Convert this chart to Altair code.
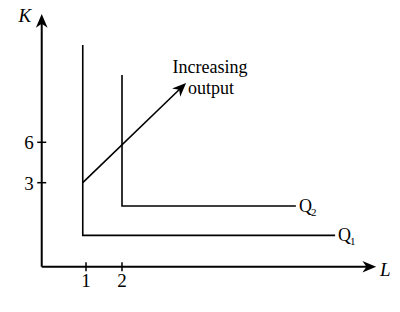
import altair as alt
import pandas as pd

# ---- data ----
# isoquants (L-shaped): Q1 and Q2
q_name = ["Q1", "Q1", "Q1", "Q2", "Q2", "Q2"]
q_L = [0.91, 0.91, 7.92, 2.0, 2.0, 6.83]
q_K = [13.22, -0.91, -0.91, 10.99, 1.27, 1.27]
q_order = [0, 1, 2, 0, 1, 2]

# axis geometry (in data units)
axis_L0 = -0.23
axis_K0 = -3.24
axis_L_end = 9.06
axis_K_end = 15.52

# ticks
L_ticks = [1, 2]
L_tick_labels = ["1", "2"]
K_ticks = [3, 6]
K_tick_labels = ["3", "6"]

# "Increasing output" arrow
arrow_L = [0.91, 3.78]
arrow_K = [3.0, 10.40]
arrow_text = ["Increasing", "output"]

# axis titles
axis_titles = ["K", "L"]

# ---- scales ----
xs = alt.Scale(domain=[-1.3889, 9.7222], nice=False, zero=False)
ys = alt.Scale(domain=[-6.601, 16.566], nice=False, zero=False)
FONT = "Liberation Serif"
ARROW = "M0,0 L-2,-0.85 L-1.4,0 L-2,0.85 Z"
HEAD_SIZE = 190


def X(f="L"):
    return alt.X(f"{f}:Q", scale=xs, axis=None)


def Y(f="K"):
    return alt.Y(f"{f}:Q", scale=ys, axis=None)


def pt(L, K, t=None):
    d = {"L": [L], "K": [K]}
    if t is not None:
        d["t"] = [t]
    return alt.Chart(pd.DataFrame(d))


# isoquant lines
iso = pd.DataFrame({"name": q_name, "L": q_L, "K": q_K, "o": q_order})
iso_lines = alt.Chart(iso).mark_line(color="black", strokeWidth=1.6).encode(
    x=X(), y=Y(), detail="name:N", order="o:Q"
)

# isoquant labels
last = iso.groupby("name").tail(1).reset_index(drop=True)
last["lab"] = "Q"
last["sub"] = [n[1:] for n in last["name"]]
q_lab = alt.Chart(last).mark_text(
    font=FONT, fontSize=18, align="left", baseline="middle", dx=3, dy=1, color="black"
).encode(x=X(), y=Y(), text="lab:N")
q_sub = alt.Chart(last).mark_text(
    font=FONT, fontSize=11, align="left", baseline="middle", dx=15, dy=7, color="black"
).encode(x=X(), y=Y(), text="sub:N")

# axes lines
head_len_L = 7 / 36.0
head_len_K = 7 / 13.467
axes_df = pd.DataFrame({
    "name": ["x", "x", "y", "y"],
    "L": [axis_L0, axis_L_end - head_len_L, axis_L0, axis_L0],
    "K": [axis_K0, axis_K0, axis_K0, axis_K_end - head_len_K],
    "o": [0, 1, 0, 1],
})
axes_lines = alt.Chart(axes_df).mark_line(color="black", strokeWidth=2).encode(
    x=X(), y=Y(), detail="name:N", order="o:Q"
)

heads_x = pt(axis_L_end, axis_K0).mark_point(
    shape=ARROW, filled=True, size=HEAD_SIZE, color="black", opacity=1, angle=0, strokeWidth=0
).encode(x=X(), y=Y())
heads_y = pt(axis_L0, axis_K_end).mark_point(
    shape=ARROW, filled=True, size=HEAD_SIZE, color="black", opacity=1, angle=270, strokeWidth=0
).encode(x=X(), y=Y())

# ticks
xt = alt.Chart(pd.DataFrame({"L": L_ticks, "K": [axis_K0] * len(L_ticks), "t": L_tick_labels}))
x_ticks = xt.mark_tick(orient="vertical", size=9, thickness=1.5, color="black", opacity=1).encode(x=X(), y=Y())
x_tick_labels = xt.mark_text(font=FONT, fontSize=19, baseline="middle", align="center", dy=14, color="black").encode(
    x=X(), y=Y(), text="t:N"
)
yt = alt.Chart(pd.DataFrame({"L": [axis_L0] * len(K_ticks), "K": K_ticks, "t": K_tick_labels}))
y_ticks = yt.mark_tick(orient="horizontal", size=9, thickness=1.5, color="black", opacity=1).encode(x=X(), y=Y())
y_tick_labels = yt.mark_text(font=FONT, fontSize=19, baseline="middle", align="right", dx=-8, dy=1, color="black").encode(
    x=X(), y=Y(), text="t:N"
)

# axis titles
title_K = pt(axis_L0, axis_K_end, axis_titles[0]).mark_text(
    font=FONT, fontSize=19, fontStyle="italic", baseline="middle", align="center", dx=-17, dy=2, color="black"
).encode(x=X(), y=Y(), text="t:N")
title_L = pt(axis_L_end, axis_K0, axis_titles[1]).mark_text(
    font=FONT, fontSize=19, fontStyle="italic", baseline="middle", align="center", dx=9, dy=3, color="black"
).encode(x=X(), y=Y(), text="t:N")

# increasing output arrow
dL = arrow_L[1] - arrow_L[0]
dK = arrow_K[1] - arrow_K[0]
shaft = pd.DataFrame({
    "L": [arrow_L[0], arrow_L[1] - dL * 0.05],
    "K": [arrow_K[0], arrow_K[1] - dK * 0.05],
    "o": [0, 1],
})
arrow_line = alt.Chart(shaft).mark_line(color="black", strokeWidth=1.6).encode(x=X(), y=Y(), order="o:Q")
arrow_head = pt(arrow_L[1], arrow_K[1]).mark_point(
    shape=ARROW, filled=True, size=HEAD_SIZE, color="black", opacity=1, angle=316, strokeWidth=0
).encode(x=X(), y=Y())
lab1 = pt(arrow_L[1], arrow_K[1], arrow_text[0]).mark_text(
    font=FONT, fontSize=18, align="center", baseline="middle", dx=24, dy=-15, color="black"
).encode(x=X(), y=Y(), text="t:N")
lab2 = pt(arrow_L[1], arrow_K[1], arrow_text[1]).mark_text(
    font=FONT, fontSize=18, align="center", baseline="middle", dx=25, dy=6, color="black"
).encode(x=X(), y=Y(), text="t:N")

chart = alt.layer(
    iso_lines, axes_lines, heads_x, heads_y, x_ticks, y_ticks, x_tick_labels, y_tick_labels,
    q_lab, q_sub, title_K, title_L, arrow_line, arrow_head, lab1, lab2
).properties(
    width=400, height=312, autosize=alt.AutoSizeParams(type="none"), padding=0, background="white"
).configure_view(stroke=None)

chart.save("out.html", embed_options={"renderer": "svg", "actions": False})
